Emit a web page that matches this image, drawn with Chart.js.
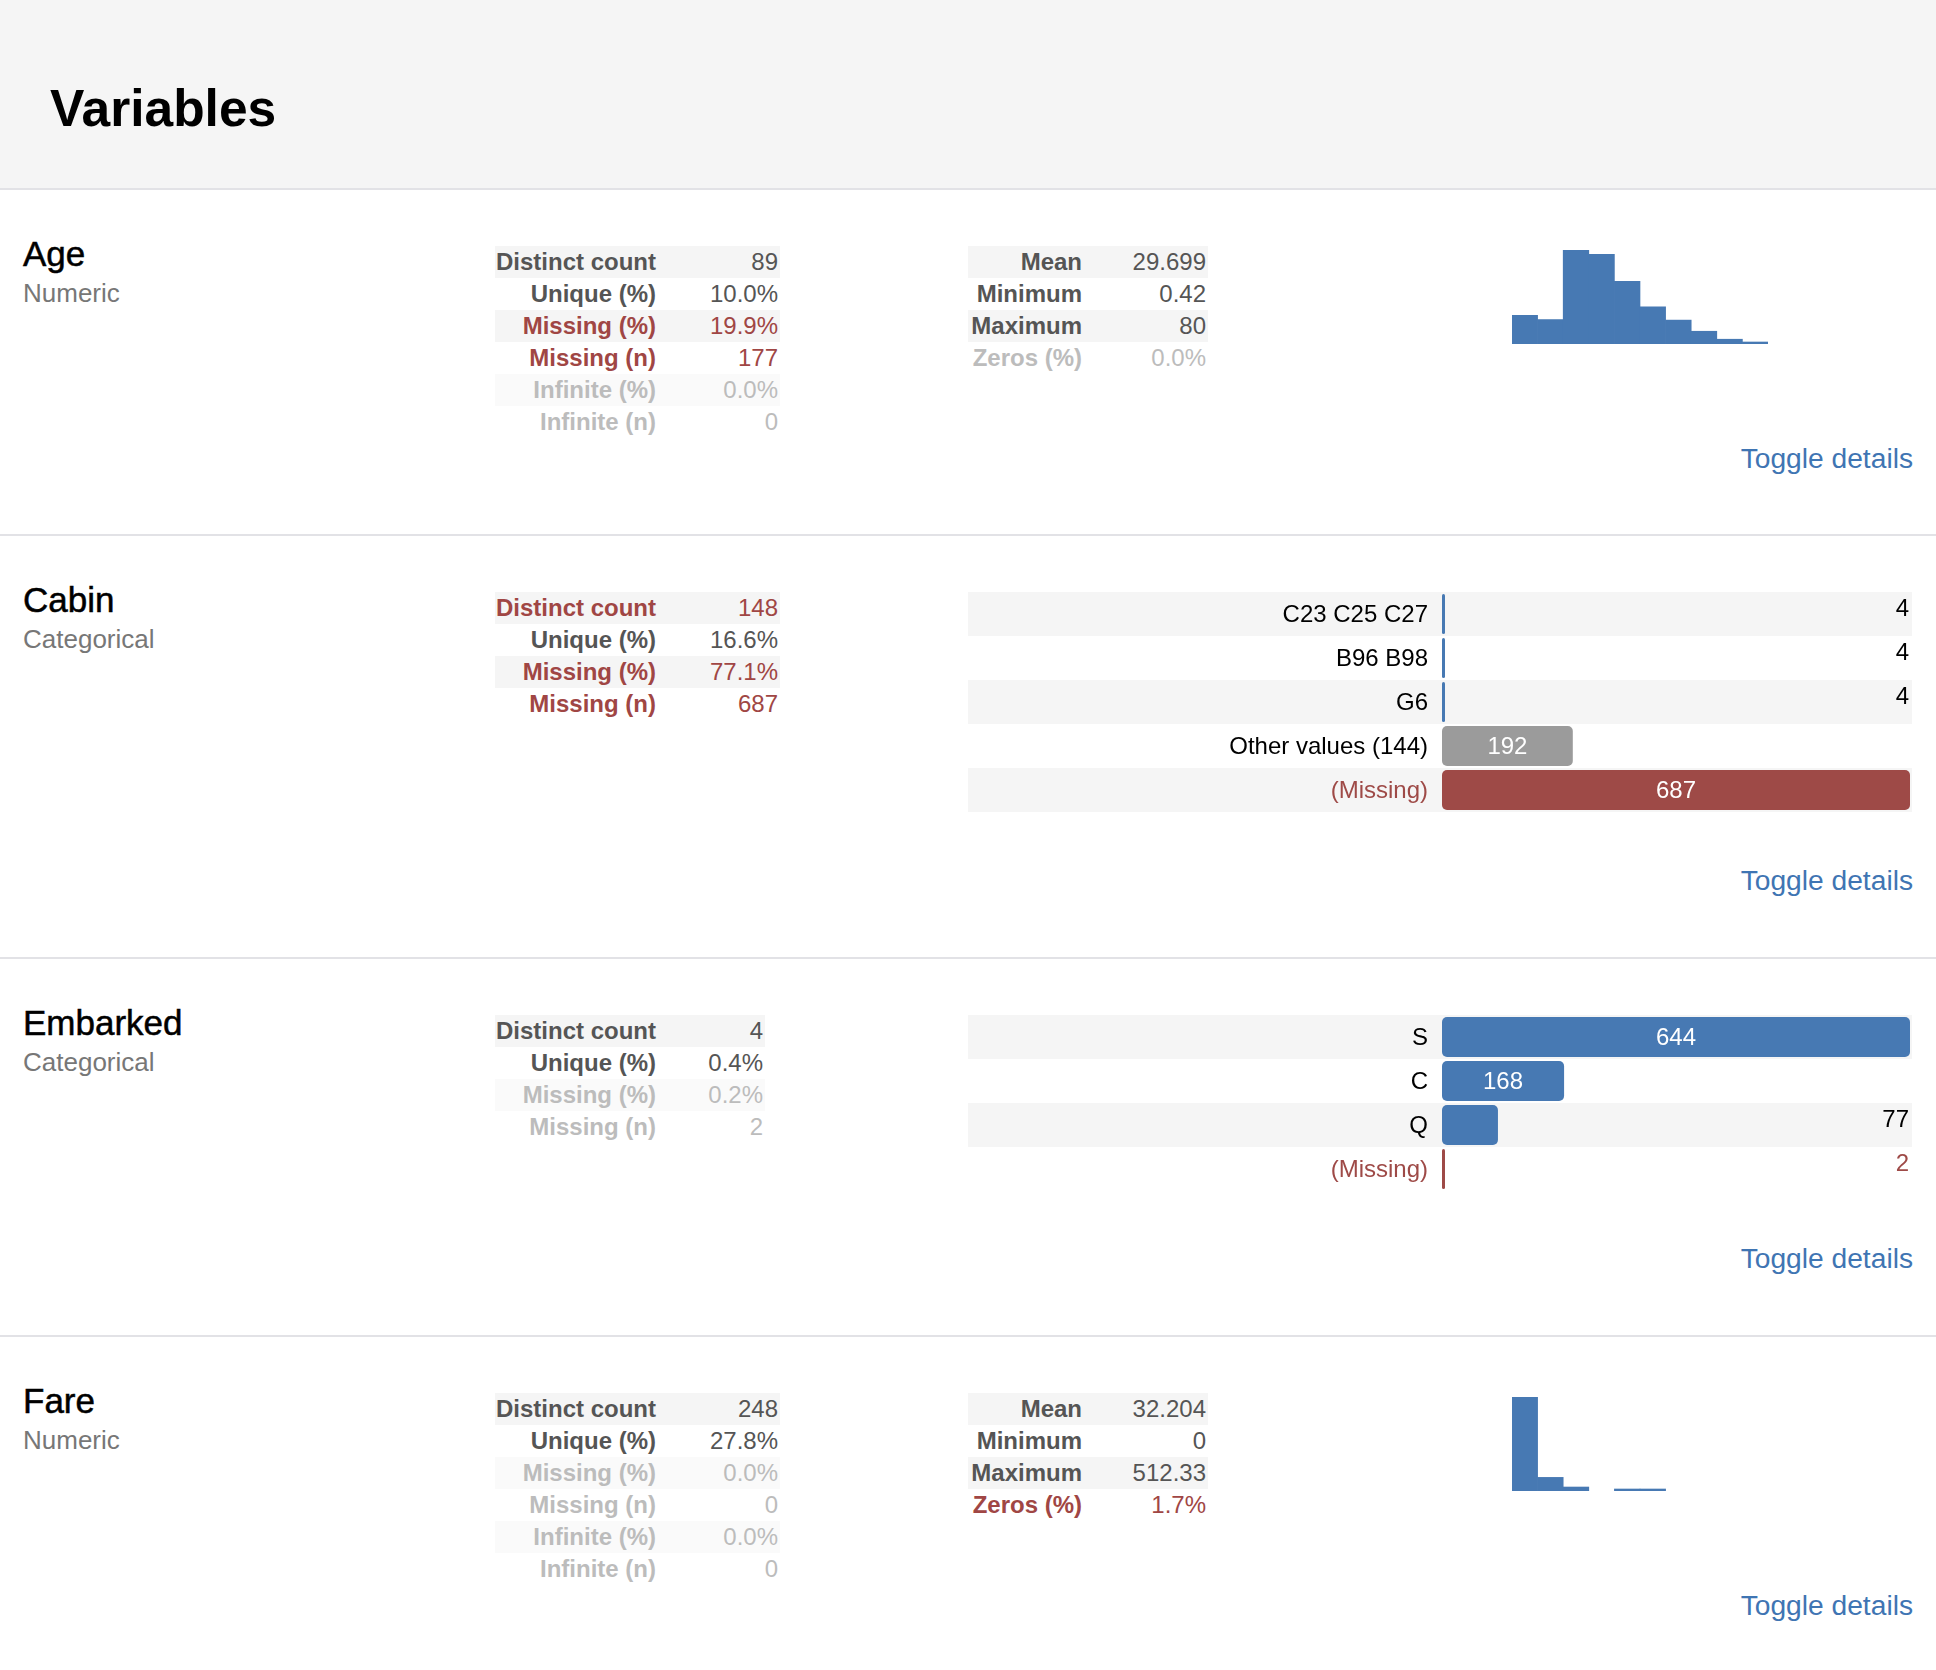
<!DOCTYPE html>
<html>
<head>
<meta charset="utf-8">
<title>Variables</title>
<script src="https://cdn.jsdelivr.net/npm/chart.js@4"></script>
<style>
    html, body { margin: 0; background: #fff; }
    #page { position: relative; width: 1936px; height: 1670px; overflow: hidden; font-family: "Liberation Sans", Arial, sans-serif; font-size: 24px; color: #000; }
    #page > * { position: absolute; }
    #header { left: 0; top: 0; width: 1936px; height: 188px; background: #f5f5f5; }
    h1 { left: 50px; top: 78px; margin: 0; font-size: 51.5px; line-height: 60px; font-weight: bold; }
    .rule { left: 0; width: 1936px; height: 2px; background: #e2e2e6; }
    .name { left: 23px; font-size: 35px; line-height: 40px; -webkit-text-stroke: 0.5px #000; }
    .type { left: 23px; font-size: 26px; line-height: 30px; color: #777; }
    .toggle { right: 23px; font-size: 28.2px; line-height: 32px; color: #3f75b3; }
    table { border-collapse: collapse; table-layout: fixed; color: #555; }
    th, td { padding: 0; height: 32px; line-height: 32px; text-align: right; white-space: nowrap; }
    tr:nth-child(odd) { background: #f5f5f5; }
    tr.alert { color: #a04644; }
    tr.muted { color: #bcbcbc; }
    tr.muted:nth-child(odd) { background: #fafafa; }
    td { padding-right: 2px; }
</style>
</head>
<body>
<div id="page">
    <div id="header"></div>
    <h1>Variables</h1>
</div>
<script>
const numericStatLabels = ['Distinct count', 'Unique (%)', 'Missing (%)', 'Missing (n)', 'Infinite (%)', 'Infinite (n)'];
const categoricalStatLabels = ['Distinct count', 'Unique (%)', 'Missing (%)', 'Missing (n)'];
const summaryLabels = ['Mean', 'Minimum', 'Maximum', 'Zeros (%)'];

const ageStats = ['89', '10.0%', '19.9%', '177', '0.0%', '0'];
const ageSummary = ['29.699', '0.42', '80', '0.0%'];
const ageHistogram = [54, 46, 177, 169, 118, 70, 45, 24, 9, 3];

const cabinStats = ['148', '16.6%', '77.1%', '687'];
const cabinLabels = ['C23 C25 C27', 'B96 B98', 'G6', 'Other values (144)', '(Missing)'];
const cabinCounts = [4, 4, 4, 192, 687];

const embarkedStats = ['4', '0.4%', '0.2%', '2'];
const embarkedLabels = ['S', 'C', 'Q', '(Missing)'];
const embarkedCounts = [644, 168, 77, 2];

const fareStats = ['248', '27.8%', '0.0%', '0', '0.0%', '0'];
const fareSummary = ['32.204', '0', '512.33', '1.7%'];
const fareHistogram = [732, 106, 31, 0, 9, 9, 0, 0, 0, 0];

const BLUE = '#4779b3';
const RED = '#9e4a47';
const GREY = '#9b9b9b';
const page = document.getElementById('page');

function place(tag, className, style, text) {
    const el = document.createElement(tag);
    el.className = className;
    Object.assign(el.style, style);
    if (text) el.textContent = text;
    page.appendChild(el);
    return el;
}

function addCanvas(left, top, width, height) {
    const canvas = place('canvas', '', { left: left + 'px', top: top + 'px' });
    canvas.width = width;
    canvas.height = height;
    return canvas.getContext('2d');
}

function addStats(left, top, width, labelWidth, labels, values, tones) {
    const table = place('table', '', { left: left + 'px', top: top + 'px', width: width + 'px' });
    table.innerHTML = `<colgroup><col style="width:${labelWidth}px"><col></colgroup>` + labels.map((label, i) =>
        `<tr class="${tones[i] || ''}"><th>${label}</th><td>${values[i]}</td></tr>`).join('');
}

function addHeading(sectionTop, name, type, toggleTop) {
    place('div', 'rule', { top: sectionTop + 'px' });
    place('div', 'name', { top: (sectionTop + 46) + 'px' }, name);
    place('div', 'type', { top: (sectionTop + 90) + 'px' }, type);
    place('div', 'toggle', { top: toggleTop + 'px' }, 'Toggle details');
}

// row stripes behind the bars, the library has no option for this
const rowStripes = {
    id: 'rowStripes',
    beforeDraw(chart) {
        const { ctx, chartArea, width } = chart;
        const rowHeight = chartArea.height / chart.data.labels.length;
        ctx.save();
        ctx.fillStyle = '#f5f5f5';
        chart.data.labels.forEach((label, i) => {
            if (i % 2 === 0) ctx.fillRect(0, chartArea.top + i * rowHeight, width, rowHeight);
        });
        ctx.restore();
    }
};

// count goes inside a long bar, small ones get it at the right edge of the row
const countLabels = {
    id: 'countLabels',
    afterDatasetsDraw(chart) {
        const { ctx, chartArea } = chart;
        const counts = chart.data.datasets[0].data;
        const largest = Math.max(...counts);
        ctx.save();
        ctx.font = '24px "Liberation Sans", Arial, sans-serif';
        ctx.textBaseline = 'middle';
        chart.getDatasetMeta(0).data.forEach((bar, i) => {
            if (counts[i] / largest > 0.2) {
                ctx.fillStyle = '#fff';
                ctx.textAlign = 'center';
                ctx.fillText(counts[i], (bar.base + bar.x) / 2, bar.y + 1);
            } else {
                ctx.fillStyle = chart.data.labels[i] === '(Missing)' ? RED : '#000';
                ctx.textAlign = 'right';
                ctx.fillText(counts[i], chartArea.right - 1, bar.y - 5);
            }
        });
        ctx.restore();
    }
};

function barColor(label) {
    if (label === '(Missing)') return RED;
    if (label.startsWith('Other values')) return GREY;
    return BLUE;
}

function createCountChart(top, labels, counts) {
    const ctx = addCanvas(968, top, 944, labels.length * 44);
    new Chart(ctx, {
        type: 'bar',
        data: {
            labels: labels,
            datasets: [{
                data: counts,
                backgroundColor: labels.map(barColor),
                borderRadius: 5,
                borderSkipped: false,
                barPercentage: 40 / 44,
                categoryPercentage: 1,
                minBarLength: 3
            }]
        },
        options: {
            indexAxis: 'y',
            responsive: false,
            animation: false,
            layout: { padding: { right: 2 } },
            scales: {
                x: { display: false, min: 0, max: Math.max(...counts) },
                y: {
                    afterFit: scale => {
                        scale.width = 474;
                        // rows should fill the canvas, no room for half a label above and below
                        scale.paddingTop = 0;
                        scale.paddingBottom = 0;
                    },
                    border: { display: false },
                    grid: { display: false, drawTicks: false },
                    ticks: {
                        padding: 14,
                        labelOffset: 1,
                        font: { family: '"Liberation Sans", Arial, sans-serif', size: 24 },
                        color: c => labels[c.index] === '(Missing)' ? RED : '#000'
                    }
                }
            },
            plugins: { legend: { display: false }, tooltip: { enabled: false } }
        },
        plugins: [rowStripes, countLabels]
    });
}

function createHistogram(top, bins) {
    const ctx = addCanvas(1510, top - 2, 260, 98);
    new Chart(ctx, {
        type: 'bar',
        data: {
            labels: bins.map((v, i) => i),
            datasets: [{
                data: bins.map(v => v || null),
                backgroundColor: BLUE,
                barPercentage: 1,
                categoryPercentage: 1,
                minBarLength: 2
            }]
        },
        options: {
            responsive: false,
            animation: false,
            layout: { padding: 2 },
            scales: {
                x: { display: false },
                y: { display: false, min: 0, max: Math.max(...bins) }
            },
            plugins: { legend: { display: false }, tooltip: { enabled: false } }
        }
    });
}

function initialize() {
    addHeading(188, 'Age', 'Numeric', 442);
    addStats(495, 246, 285, 161, numericStatLabels, ageStats, ['', '', 'alert', 'alert', 'muted', 'muted']);
    addStats(968, 246, 240, 114, summaryLabels, ageSummary, ['', '', '', 'muted']);
    createHistogram(250, ageHistogram);

    addHeading(534, 'Cabin', 'Categorical', 864);
    addStats(495, 592, 285, 161, categoricalStatLabels, cabinStats, ['alert', '', 'alert', 'alert']);
    createCountChart(592, cabinLabels, cabinCounts);

    addHeading(957, 'Embarked', 'Categorical', 1242);
    addStats(495, 1015, 270, 161, categoricalStatLabels, embarkedStats, ['', '', 'muted', 'muted']);
    createCountChart(1015, embarkedLabels, embarkedCounts);

    addHeading(1335, 'Fare', 'Numeric', 1589);
    addStats(495, 1393, 285, 161, numericStatLabels, fareStats, ['', '', 'muted', 'muted', 'muted', 'muted']);
    addStats(968, 1393, 240, 114, summaryLabels, fareSummary, ['', '', '', 'alert']);
    createHistogram(1397, fareHistogram);
}

document.addEventListener('DOMContentLoaded', initialize);
</script>
</body>
</html>
